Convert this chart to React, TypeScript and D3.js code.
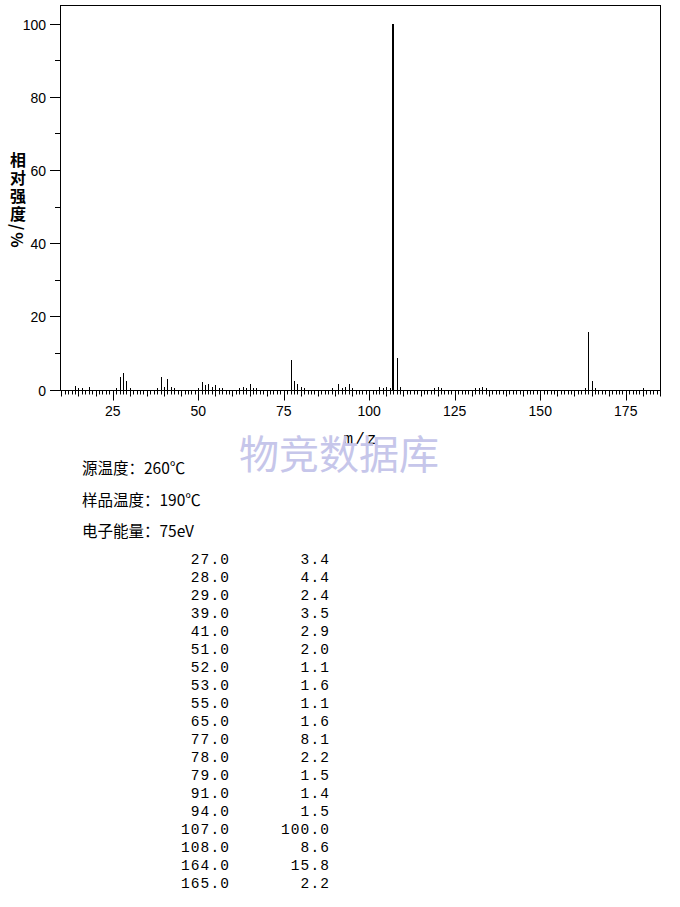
import React from "react";
import * as d3 from "d3";

// Listed peaks (m/z, relative intensity %)
const tableMz = [27, 28, 29, 39, 41, 51, 52, 53, 55, 65, 77, 78, 79, 91, 94, 107, 108, 164, 165];
const tableInt = [3.4, 4.4, 2.4, 3.5, 2.9, 2.0, 1.1, 1.6, 1.1, 1.6, 8.1, 2.2, 1.5, 1.4, 1.5, 100.0, 8.6, 15.8, 2.2];

// Small unlisted peaks
const minorMz = [14, 15, 16, 18, 26, 30, 38, 40, 42, 43, 50, 54, 56, 57, 62, 63, 64, 66, 67, 80, 81, 89, 92, 93, 95, 103, 104, 105, 106, 109, 119, 120, 121, 131, 132, 133, 134, 163, 166, 180];
const minorInt = [0.9, 0.4, 0.4, 0.7, 0.4, 0.4, 0.5, 0.7, 0.6, 0.5, 0.4, 0.8, 0.5, 0.3, 0.5, 0.6, 0.5, 0.5, 0.3, 0.6, 0.3, 0.3, 0.5, 0.6, 0.5, 0.6, 0.5, 0.6, 0.4, 0.6, 0.5, 0.6, 0.5, 0.4, 0.4, 0.6, 0.4, 0.3, 0.5, 0.5];

const yTicks = [0, 20, 40, 60, 80, 100];
const yMinorTicks = [10, 30, 50, 70, 90];
const xTicks = [25, 50, 75, 100, 125, 150, 175];

const yLabel = "相对强度/%";
const xLabel = "m/z";
const watermark = "物竞数据库";
const infoLines = ["源温度：260℃", "样品温度：190℃", "电子能量：75eV"];

export default function App() {
  const x = d3.scaleLinear().domain([9.6, 185.3]).range([60, 661]);
  const y = d3.scaleLinear().domain([0, 105.1]).range([389.5, 5]);
  const px = (v: number) => Math.round(x(v)) + 0.5;
  const py = (v: number) => Math.round(y(v)) + 0.5;

  const minorX = d3.range(10, 186, 1);
  const peaks = [
    ...minorMz.map((m, i) => ({ m, v: minorInt[i] })),
    ...tableMz.map((m, i) => ({ m, v: tableInt[i] })),
  ];
  const maxV = d3.max(tableInt) as number;
  const y0 = py(0);
  const left = 60.5;
  const right = 660.5;
  const top = 5.5;

  const sans = "'Liberation Sans', Arial, sans-serif";
  const cjk = "'Noto Sans CJK SC', sans-serif";
  const mono = "'Liberation Mono', 'Courier New', monospace";

  return (
    <svg width={680} height={907} style={{ position: "absolute", left: 0, top: 0, background: "#fff" }}>
      <rect x={0} y={0} width={680} height={907} fill="#fff" />
      {/* frame */}
      <rect x={left} y={top} width={right - left} height={y0 - top} fill="none" stroke="#000" strokeWidth={1} />
      {/* y ticks */}
      {yTicks.map((t) => (
        <g key={"y" + t}>
          <line x1={50} x2={left} y1={py(t)} y2={py(t)} stroke="#000" />
          <text x={46} y={py(t) + 5} textAnchor="end" fontFamily={sans} fontSize={14} fill="#000">
            {t}
          </text>
        </g>
      ))}
      {yMinorTicks.map((t) => (
        <line key={"ym" + t} x1={55} x2={left} y1={py(t)} y2={py(t)} stroke="#000" />
      ))}
      {/* x ticks */}
      {minorX.map((t) => {
        const len = t % 25 === 0 ? 10 : t % 5 === 0 ? 6 : 4;
        return <line key={"x" + t} x1={px(t)} x2={px(t)} y1={y0} y2={y0 + len} stroke="#000" />;
      })}
      {xTicks.map((t) => (
        <text key={"xl" + t} x={x(t)} y={416} textAnchor="middle" fontFamily={sans} fontSize={14} fill="#000">
          {t}
        </text>
      ))}
      {/* peaks */}
      {peaks.map((p, i) => (
        <line
          key={"p" + i}
          x1={p.v === maxV ? Math.round(x(p.m)) : px(p.m)}
          x2={p.v === maxV ? Math.round(x(p.m)) : px(p.m)}
          y1={y0}
          y2={Math.round(y(p.v))}
          stroke="#000"
          strokeWidth={p.v === maxV ? 2 : 1}
        />
      ))}
      {/* y axis label (vertical) */}
      <text
        x={18}
        y={152}
        fontFamily={cjk}
        fontSize={16}
        fontWeight="bold"
        letterSpacing={2}
        fill="#000"
        style={{ writingMode: "vertical-rl" } as React.CSSProperties}
      >
        {yLabel}
      </text>
      {/* x axis label */}
      <text x={361} y={444} textAnchor="middle" fontFamily={mono} fontSize={16} letterSpacing={2} fill="#000">
        {xLabel}
      </text>
      {/* watermark */}
      <text x={339} y={469} textAnchor="middle" fontFamily={cjk} fontSize={40} fill="#c6c6ea">
        {watermark}
      </text>
      {/* info */}
      {infoLines.map((s, i) => (
        <text key={"info" + i} x={82} y={474 + i * 31.5} fontFamily={cjk} fontSize={15.5} fill="#000">
          {s}
        </text>
      ))}
      {/* table */}
      {tableMz.map((m, i) => (
        <g key={"t" + i}>
          <text x={230} y={564 + i * 18} textAnchor="end" fontFamily={mono} fontSize={14.5} letterSpacing={1.1} fill="#000">
            {m.toFixed(1)}
          </text>
          <text x={330} y={564 + i * 18} textAnchor="end" fontFamily={mono} fontSize={14.5} letterSpacing={1.1} fill="#000">
            {tableInt[i].toFixed(1)}
          </text>
        </g>
      ))}
    </svg>
  );
}
